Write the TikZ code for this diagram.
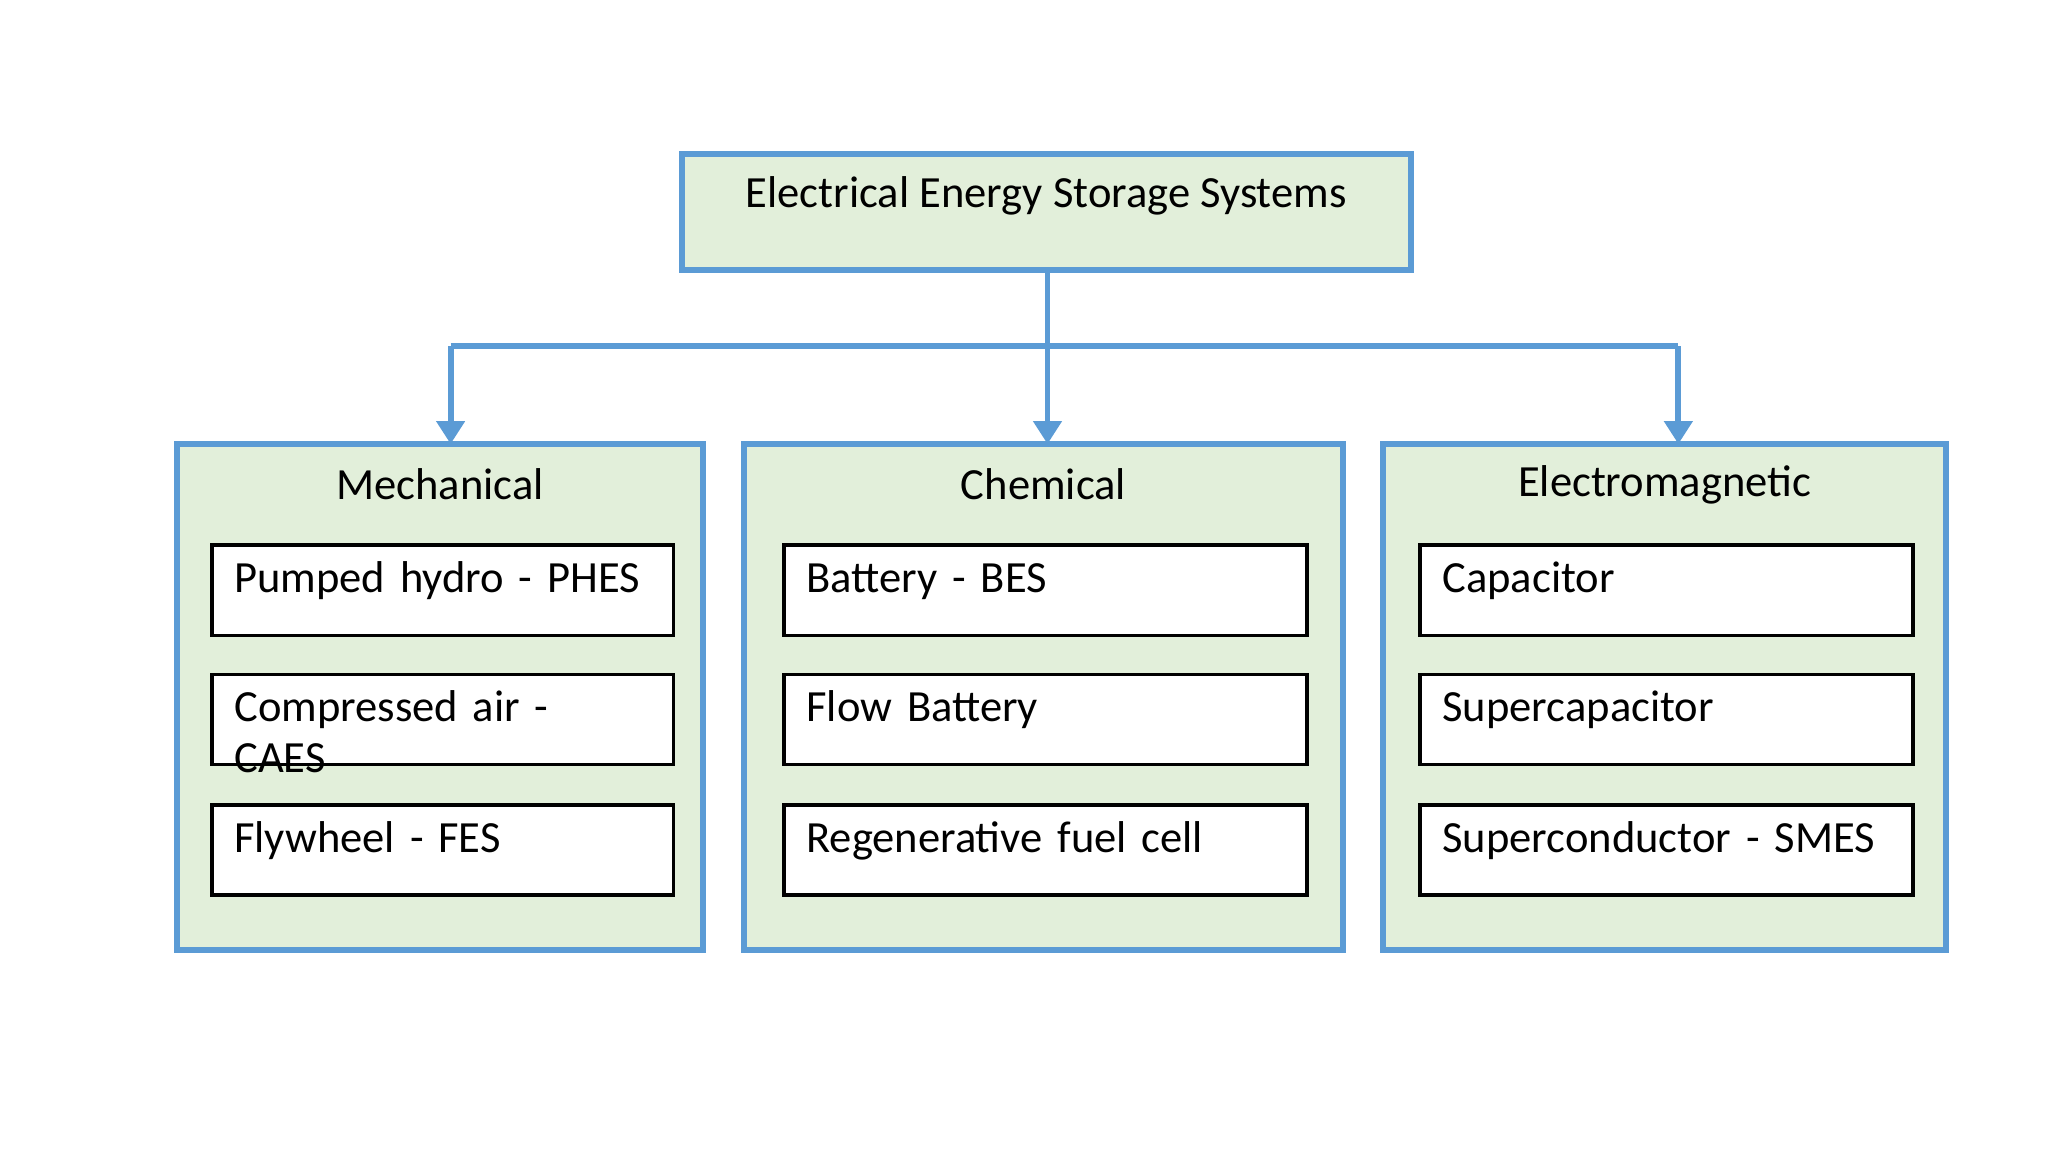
\documentclass[tikz,border=0pt]{standalone}
\usepackage{fontspec}
\setmainfont{Carlito}
\usetikzlibrary{arrows.meta}
\definecolor{bl}{HTML}{5B9BD5}
\definecolor{gr}{HTML}{E2EFDA}
\begin{document}
\begin{tikzpicture}[x=0.01cm,y=-0.01cm,
 grp/.style={draw=bl,fill=gr,line width=1.3pt},
 item/.style={draw=black,fill=white,line width=0.8pt,minimum height=0.69cm,text height=1.5ex,text depth=1.3ex,align=left,anchor=north west,inner ysep=0pt,inner xsep=0.17cm},
 t/.style={font=\fontsize{9.7}{11}\selectfont},
 arr/.style={draw=bl,line width=1.3pt,-{Triangle[length=5pt,width=6pt]}}]
\useasboundingbox (0,0) rectangle (1568,882);
\node[grp,minimum width=5.58cm,minimum height=0.89cm] (top) at (801,162.5) {};
\node[t] (toptext) at (801,150) {Electrical Energy Storage Systems};
\node[grp,minimum width=4.02cm,minimum height=3.87cm] (mech) at (337,533.5) {};
\node[grp,minimum width=4.58cm,minimum height=3.87cm] (chem) at (799,533.5) {};
\node[grp,minimum width=4.31cm,minimum height=3.87cm] (elec) at (1274.5,533.5) {};
\node[t] (mt) at (337,371) {Mechanical};
\node[t] (ct) at (799,371) {Chemical};
\node[t] (et) at (1274.5,371) {Electromagnetic};
\coordinate (j) at (802,265);
\coordinate (jl) at (345,265);
\coordinate (jr) at (1285,265);
\draw[draw=bl,line width=1.3pt] (802,207) -- (j);
\draw[draw=bl,line width=1.3pt] (jl) -- (jr);
\draw[arr] (jl) -- (345,340);
\draw[arr] (j) -- (802,340);
\draw[arr] (jr) -- (1285,340);
\foreach \n/\x/\w/\a/\b/\c in {m/161/3.19/Pumped hydro - PHES/Compressed air - CAES/Flywheel - FES,
 c/599/3.66/Battery - BES/Flow Battery/Regenerative fuel cell,
 e/1086/3.43/Capacitor/Supercapacitor/Superconductor - SMES}{
 \node[item,t,text width=\w cm] (\n1) at (\x,416) {\a};
 \node[item,t,text width=\w cm] (\n2) at (\x,515) {\b};
 \node[item,t,text width=\w cm] (\n3) at (\x,615) {\c};
}
\end{tikzpicture}
\end{document}
